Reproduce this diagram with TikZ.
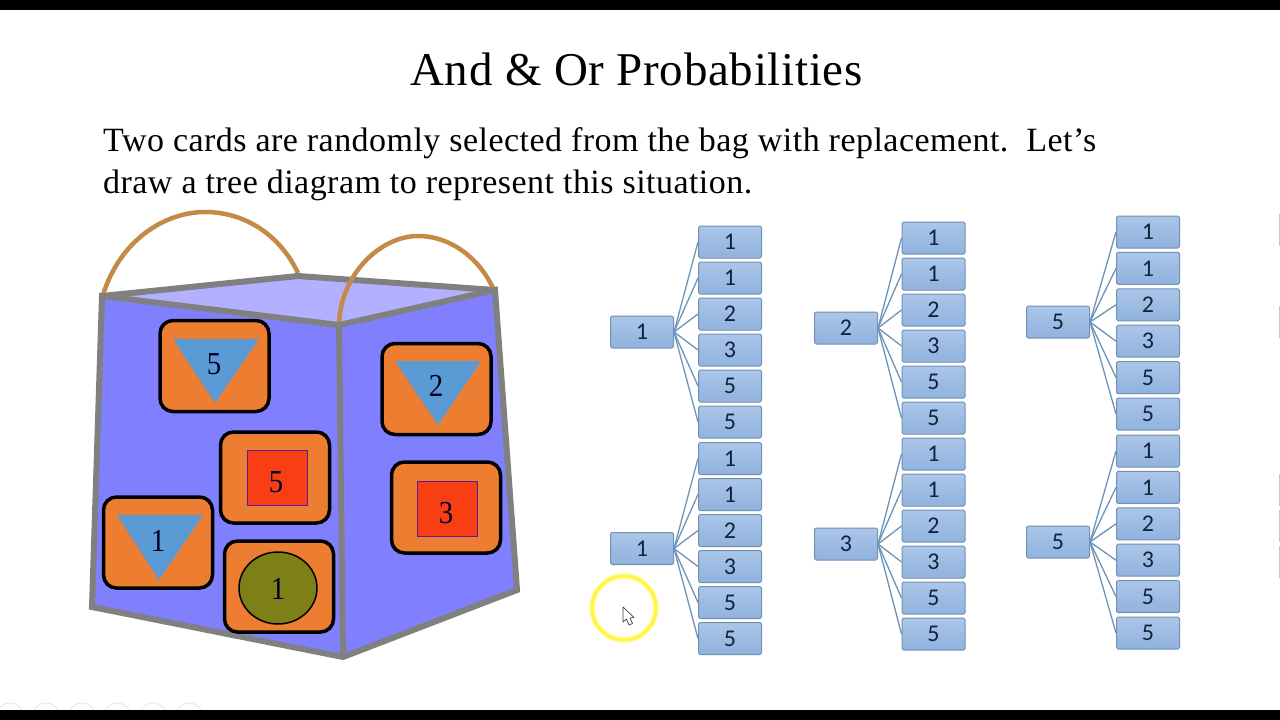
\documentclass[tikz,border=0pt]{standalone}
\usepackage{fontspec}
\usetikzlibrary{shapes.geometric}
\setmainfont{Liberation Serif}
\newfontfamily\boxfont{Carlito}
\newfontfamily\titlefont[LetterSpace=1.45]{Liberation Serif}
\newfontfamily\bodyfont[LetterSpace=1.35]{Liberation Serif}
\definecolor{bagside}{HTML}{8080FF}
\definecolor{bagtop}{HTML}{B3B0FF}
\definecolor{baggray}{HTML}{808080}
\definecolor{handle}{HTML}{C48A48}
\definecolor{cardor}{HTML}{ED7D31}
\definecolor{tri}{HTML}{5B9BD5}
\definecolor{sq}{HTML}{FA3E14}
\definecolor{sqline}{HTML}{5A1A9A}
\definecolor{olive}{HTML}{7F7F17}
\definecolor{edgeblue}{HTML}{6C93B8}
\definecolor{boxline}{HTML}{7390B5}
\definecolor{boxtop}{HTML}{ABC6E8}
\definecolor{boxbot}{HTML}{8FB2DE}
\definecolor{boxtext}{HTML}{10243E}
\tikzset{
  x=1pt,y=-1pt,
  treebox/.style={rectangle,rounded corners=1.5pt,draw=boxline,line width=1pt,top color=boxtop,bottom color=boxbot,minimum width=63pt,minimum height=32pt,inner sep=0pt,text=boxtext,font=\boxfont\fontsize{24}{24}\selectfont},
  treeedge/.style={draw=edgeblue,line width=1.3pt},
  card/.style={rectangle,rounded corners=13pt,draw=black,line width=3.5pt,fill=cardor,minimum width=109pt,minimum height=91pt,inner sep=0pt},
  trishape/.style={fill=tri,draw=none},
  sqshape/.style={rectangle,fill=sq,draw=sqline,line width=.8pt,minimum width=60pt,minimum height=55pt,inner sep=0pt},
  digit/.style={inner sep=0pt,xscale=.9,font=\fontsize{32}{32}\selectfont,text=black!85!blue},
  bagline/.style={draw=baggray,line width=6pt,line join=miter},
  handleline/.style={draw=handle,line width=4.5pt},
}
\newcommand{\tree}[7]{% prefix, rootx, rooty, rootlabel, childx, firstchildy, step
  \node[treebox] (#1r) at (#2,#3) {#4};
  \foreach \lab [count=\i from 0] in {1,1,2,3,5,5} {
    \pgfmathsetmacro{\cy}{#6+\i*#7}
    \node[treebox] (#1c\i) at (#5,\cy) {\lab};
    \draw[treeedge] (#1r.east) -- (#1c\i.west);
  }
}
\begin{document}
\begin{tikzpicture}
\useasboundingbox (0,0) rectangle (1280,720);
\fill[white] (0,0) rectangle (1280,720);
% faint player buttons
\foreach \bx in {10,46,82,117,153,189}{\draw[black!10,line width=.8pt] (\bx,717) circle[radius=14];}
% clipped thumbnails on the right edge
\foreach \ty in {214,306,474,510,546}{\fill[black!22] (1278.5,\ty) rectangle (1280,\ty+32);}
\fill[black] (0,0) rectangle (1280,10);
\fill[black] (0,710) rectangle (1280,720);
% title and text
\node[anchor=base,inner sep=0pt,font=\titlefont\fontsize{47}{47}\selectfont] (title) at (636.5,85) {And \& Or Probabilities};
\node[anchor=base west,inner sep=0pt,font=\bodyfont\fontsize{34}{42}\selectfont] (l1) at (103,151) {Two cards are randomly selected from the bag with replacement.\ \ Let’s};
\node[anchor=base west,inner sep=0pt,font=\bodyfont\fontsize{34}{42}\selectfont] (l2) at (103,193) {draw a tree diagram to represent this situation.};
% bag
\fill[bagtop] (102,296) -- (298,276) -- (495,290) -- (339,325) -- cycle;
\fill[bagside] (102,296) -- (339,325) -- (343,657) -- (92,607) -- cycle;
\fill[bagside] (339,325) -- (495,290) -- (517,590) -- (343,657) -- cycle;
\draw[handleline] (103,295) .. controls (120,240) and (165,212) .. (205,212) .. controls (245,212) and (280,235) .. (298,273);
\draw[bagline] (102,296) -- (298,276) -- (495,290);
\draw[handleline] (339,325) .. controls (340,275) and (380,236) .. (418,236) .. controls (452,236) and (480,260) .. (493,288);
\draw[bagline] (102,296) -- (339,325) -- (495,290) -- (517,590) -- (343,657) -- (92,607) -- cycle;
\draw[bagline] (339,325) -- (343,657);
% cards
\node[card] (c5t) at (214.5,366) {};
\fill[trishape] (173,339) -- (259,339) -- (215,403) -- cycle;
\node[digit] at (214,364) {5};
\node[card] (c5s) at (275,477.5) {};
\node[sqshape] (s5) at (277,477.5) {};
\node[digit] at (276,482) {5};
\node[card] (c1t) at (158,542.5) {};
\fill[trishape] (117,515) -- (203,515) -- (159,580) -- cycle;
\node[digit] at (158,541) {1};
\node[card] (c1c) at (279,586.5) {};
\node[ellipse,draw=black,line width=1.5pt,fill=olive,minimum width=78pt,minimum height=72pt,inner sep=0pt] (e1) at (278,588) {};
\node[digit] at (278,589) {1};
\node[card] (c2t) at (436.5,389) {};
\fill[trishape] (395,361) -- (481,361) -- (438,425) -- cycle;
\node[digit] at (436,386) {2};
\node[card] (c3s) at (446,507.5) {};
\node[sqshape] (s3) at (447,508.5) {};
\node[digit] at (446,513) {3};
% trees
\tree{a}{642}{332}{1}{730}{242}{36}
\tree{b}{642}{548.5}{1}{730}{458.5}{36}
\tree{c}{846}{328}{2}{933.5}{238}{36}
\tree{d}{846}{544}{3}{933.5}{454}{36}
\tree{e}{1058}{322}{5}{1148}{232}{36.4}
\tree{f}{1058}{542}{5}{1148}{451}{36.4}
% cursor highlight
\draw[yellow!30!white,line width=6pt] (624,608) circle[radius=32];
\draw[yellow!75!white,line width=3pt] (624,608) circle[radius=32];
\draw[black!75,fill=white,line width=.7pt,line join=round] (623,607) -- (623,622) -- (626.5,619) -- (629,625) -- (632.5,623.5) -- (630,618) -- (634,617.5) -- cycle;
\end{tikzpicture}
\end{document}
